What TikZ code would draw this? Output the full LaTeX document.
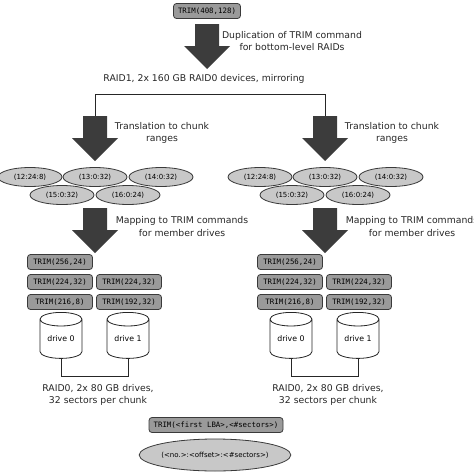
\documentclass[tikz,border=0pt]{standalone}
\usepackage{fontspec}
\setmainfont{DejaVu Sans}
\newfontfamily\monof{DejaVu Sans Mono}
\usetikzlibrary{shapes.geometric}
\definecolor{arrowcol}{HTML}{3C3C3C}
\definecolor{boxfill}{HTML}{9A9A9A}
\definecolor{chunkfill}{HTML}{C8C8C8}
\definecolor{edgecol}{HTML}{3A3A3A}
\tikzset{
  trimbox/.style={draw=edgecol, fill=boxfill, rounded corners=3pt, minimum width=65pt,
    minimum height=15pt, inner sep=0pt, line width=0.8pt, font=\monof\fontsize{7.4}{8}\selectfont},
  chunk/.style={ellipse, draw=edgecol, fill=chunkfill, minimum width=64pt, minimum height=19pt,
    inner sep=0pt, line width=0.8pt, font=\fontsize{7}{8}\selectfont},
  lbl/.style={align=center, inner sep=0pt, text=black!85, font=\fontsize{9.3}{12.5}\selectfont},
  drive/.style={cylinder, shape border rotate=90, aspect=0.5, draw=black!85, fill=white,
    minimum width=42pt, minimum height=46pt, inner sep=0pt, line width=0.8pt,
    font=\fontsize{7.8}{9}\selectfont},
  wire/.style={draw=black!85, line width=1pt},
  bigarrow/.pic={\fill[arrowcol] (-12,0) -- (12,0) -- (12,22) -- (23,22) -- (0,45)
    -- (-23,22) -- (-12,22) -- cycle;}
}
\begin{document}
\begin{tikzpicture}[x=1pt,y=-1pt]
\useasboundingbox (0,0) rectangle (474,474);
\clip (0,0) rectangle (474,474);

% top
\node[trimbox, minimum width=67pt] (top) at (207,11) {TRIM(408,128)};
\coordinate (a0) at (207,24);
\pic at (a0) {bigarrow};
\node[lbl] (dup) at (292,41) {Duplication of TRIM command\\for bottom-level RAIDs};
\node[lbl] (raid1) at (204,79) {RAID1, 2x 160 GB RAID0 devices, mirroring};

\coordinate (a1L) at (95,116);
\coordinate (a1R) at (325,116);
\draw[wire] (a1L) -- ++(0,-22) -| (a1R);

\foreach \s/\dx in {L/0,R/230}{
  \begin{scope}[xshift=\dx pt]
    \pic at (95,116) {bigarrow};
    \node[lbl] (tr\s) at (162,133) {Translation to chunk\\ranges};
    \node[chunk] (c12\s) at (30,177) {(12:24:8)};
    \node[chunk] (c13\s) at (95,177) {(13:0:32)};
    \node[chunk] (c14\s) at (161,177) {(14:0:32)};
    \node[chunk] (c15\s) at (62,195) {(15:0:32)};
    \node[chunk] (c16\s) at (128,195) {(16:0:24)};
    \coordinate (a2\s) at (95,208);
    \pic at (a2\s) {bigarrow};
    \node[lbl] (map\s) at (182,226.5) {Mapping to TRIM commands\\for member drives};
    \node[trimbox] (t1\s) at (60,262) {TRIM(256,24)};
    \node[trimbox] (t2\s) at (60,282) {TRIM(224,32)};
    \node[trimbox] (t3\s) at (129,282) {TRIM(224,32)};
    \node[trimbox] (t4\s) at (60,302) {TRIM(216,8)};
    \node[trimbox] (t5\s) at (129,302) {TRIM(192,32)};
    \node[drive] (d0\s) at (61,339) {drive 0};
    \node[drive] (d1\s) at (128,339) {drive 1};
    \draw[wire] (d0\s.south) -- ++(0,18) -| (d1\s.south);
    \node[lbl] (r0\s) at (98,395) {RAID0, 2x 80 GB drives,\\32 sectors per chunk};
  \end{scope}
}

% legend
\node[trimbox, minimum width=134pt] (legT) at (216,425) {TRIM(<first LBA>,<\#sectors>)};
\node[chunk, minimum width=128pt, minimum height=32pt] (legC) at (215,455) {(<no.>:<offset>:<\#sectors>)};
\end{tikzpicture}
\end{document}
